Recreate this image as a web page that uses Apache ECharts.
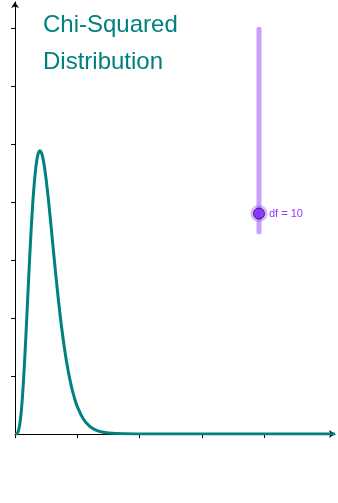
<!DOCTYPE html>
<html><head><meta charset="utf-8">
<script src="https://cdn.jsdelivr.net/npm/echarts@6/dist/echarts.min.js"></script>
<style>html,body{margin:0;padding:0;background:#fff}#c{width:338px;height:503px}</style>
</head><body><div id="c"></div>
<script>
var titleLines = ['Chi-Squared', 'Distribution'];
var xValues = [0,0.5,1,1.5,2,2.5,3,3.5,4,4.5,5,5.5,6,6.5,7,7.5,8,8.5,9,9.5,10,10.5,11,11.5,12,12.5,13,13.5,14,14.5,15,16,17,18,19,20,22,24,26,28,30,35,40,50,60,70,80,90,102.7];
var density = [0,0.0000634,0.00079,0.003114,0.00766,0.01457,0.02353,0.03395,0.04511,0.05628,0.0668,0.07617,0.08402,0.09012,0.09441,0.09689,0.09768,0.09695,0.09491,0.09176,0.08773,0.08305,0.07791,0.07248,0.06693,0.06137,0.05591,0.05064,0.04561,0.04088,0.03646,0.02863,0.02213,0.01687,0.0127,0.00946,0.00509,0.00265,0.001345,0.000666,0.000323,0.000049,0.0000075,0,0,0,0,0,0];
var xTicks = [0, 20, 40, 60, 80];
var yTicks = [0.02, 0.04, 0.06, 0.08, 0.1, 0.12, 0.14];
var sliderRange = [1, 100];
var dfValue = 10;
var dfLabel = 'df = ' + dfValue;

var curve = xValues.map(function(x, i){ return [x, density[i]]; });
var chart = echarts.init(document.getElementById('c'), null, {renderer:'canvas'});
var font = 'Liberation Sans, Arial, sans-serif';
chart.setOption({
  animation: false,
  title: {
    text: titleLines.join('\n'), left: 38, top: 2,
    textStyle: {color:'#008080', fontSize:24, fontWeight:'normal', fontFamily:font, lineHeight:37}
  },
  grid: [
    {left:15, top:2, width:320, height:432},
    {left:249, top:29, width:20, height:203}
  ],
  xAxis: [
    {type:'value', gridIndex:0, min:0, max:102.7, interval:20,
     axisLine:{lineStyle:{color:'#000', width:1}, symbol:['none','arrow'], symbolSize:[6,6]},
     axisTick:{show:true, length:4, lineStyle:{color:'#000'}, customValues:xTicks},
     axisLabel:{show:false}, splitLine:{show:false}},
    {type:'value', gridIndex:1, min:-1, max:1, show:false}
  ],
  yAxis: [
    {type:'value', gridIndex:0, min:0, max:0.149, interval:0.02,
     axisLine:{show:true, lineStyle:{color:'#000', width:1}, symbol:['none','arrow'], symbolSize:[6,6]},
     axisTick:{show:true, length:4, lineStyle:{color:'#000'}, customValues:yTicks},
     axisLabel:{show:false}, splitLine:{show:false}},
    {type:'value', gridIndex:1, min:sliderRange[0], max:sliderRange[1], show:false}
  ],
  series: [
    {type:'line', xAxisIndex:0, yAxisIndex:0, data:curve, smooth:0.4, showSymbol:false,
     lineStyle:{color:'#008080', width:3}, z:3},
    {type:'line', xAxisIndex:1, yAxisIndex:1, data:[[0,sliderRange[0]],[0,sliderRange[1]]], showSymbol:false,
     lineStyle:{color:'#C8A0FF', width:5, cap:'round'}, z:2},
    {type:'scatter', xAxisIndex:1, yAxisIndex:1, data:[[0,dfValue]], symbolSize:17,
     itemStyle:{color:'rgba(165,100,255,0.6)'}, z:3, silent:true},
    {type:'scatter', xAxisIndex:1, yAxisIndex:1, data:[[0,dfValue]], symbolSize:11,
     itemStyle:{color:'#8020FF', borderColor:'#1a1030', borderWidth:1}, z:4,
     label:{show:true, position:'right', distance:4, formatter:dfLabel, color:'#7F00FF', fontSize:11, fontFamily:font}}
  ]
});
</script></body></html>
